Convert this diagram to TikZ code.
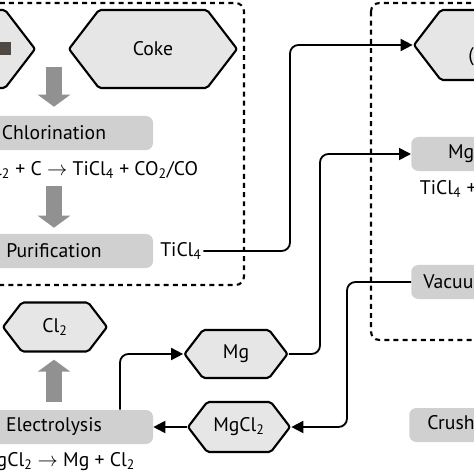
\documentclass[tikz,border=0pt]{standalone}
\usepackage{fontspec}
\setmainfont{PT Sans}
\usetikzlibrary{arrows.meta}
\usetikzlibrary{shapes.symbols}

\definecolor{hexgray}{RGB}{230,230,230}
\definecolor{boxgray}{RGB}{208,208,208}
\definecolor{arrowgray}{RGB}{145,145,145}
\definecolor{oregray}{RGB}{80,72,66}

\begin{document}
\begin{tikzpicture}[x=0.025cm, y=-0.025cm, font=\fontsize{14}{17}\selectfont,
	hexa/.style={signal, signal to=west and east, signal pointer angle=105, draw, line width=1.5pt, fill=hexgray, rounded corners=1.5pt, inner sep=0pt},
	proc/.style={fill=boxgray, rounded corners=5pt, minimum height=0.85cm, minimum width=4.95cm, inner sep=0pt},
	procr/.style={fill=boxgray, rounded corners=5pt, minimum height=0.85cm, inner ysep=0pt, anchor=west},
	flow/.style={line width=1.3pt, rounded corners=6pt, -{Triangle[length=0.3cm, width=0.3cm]}},
	bigarrow/.style={draw=arrowgray, line width=0.4cm, -{Triangle[length=0.3cm, width=0.8cm]}},
	group/.style={line width=1.5pt, dash pattern=on 3.5pt off 3pt, rounded corners=6pt}]
	\useasboundingbox (0,0) rectangle (474,474);
	\clip (0,0) rectangle (474,474);

	% dashed groups
	\draw[group] (-60,3) rectangle (244,285);
	\draw[group] (371,3) rectangle (560,340);

	% chlorination side
	\node[hexa, minimum width=4.2cm, minimum height=1.95cm] (ore) at (-49,49) {};
	\fill[oregray] (-30,42) rectangle (11,55);
	\node[anchor=east, font=\footnotesize] (orelab) at (4,70) {Rutile};
	\node[hexa, minimum width=4.2cm, minimum height=1.95cm] (coke) at (153,49) {Coke};
	\node[proc] (chl) at (54,133) {Chlorination};
	\node[anchor=east] (eqchl) at (203,170) {TiO\textsubscript{2} + 2Cl\textsubscript{2} + C $\rightarrow$ TiCl\textsubscript{4} + CO\textsubscript{2}/CO};
	\node[proc] (pur) at (54,251) {Purification};
	\node[inner sep=1pt] (ticl) at (181,251) {TiCl\textsubscript{4}};
	\draw[bigarrow] ([yshift=1.225cm]chl.north) -- ([yshift=0.225cm]chl.north);
	\draw[bigarrow] ([yshift=1.2cm]pur.north) -- ([yshift=0.15cm]pur.north);

	% reduction side
	\node[hexa, minimum width=4.2cm, minimum height=1.75cm, align=center] (feed) at (498,45) {TiCl\textsubscript{4}\\(liquid)};
	\node[procr, inner xsep=0.92cm] (mgred) at (411,154) {Mg reduction};
	\node[anchor=west] (eqred) at (415,190) {TiCl\textsubscript{4} + 2Mg $\rightarrow$ Ti + 2MgCl\textsubscript{2}};
	\node[procr, inner xsep=0.3cm] (vac) at (411,282) {Vacuum distillation};
	\node[anchor=west] (vaclab) at (469,312) {Ti sponge};
	\node[procr, inner xsep=0.45cm] (crush) at (409,425) {Crushing};

	% electrolysis loop
	\node[hexa, minimum width=2.6cm, minimum height=1.225cm] (cl) at (55,327) {Cl\textsubscript{2}};
	\node[proc] (elec) at (54,427) {Electrolysis};
	\node[anchor=east] (eqel) at (140,462) {MgCl\textsubscript{2} $\rightarrow$ Mg + Cl\textsubscript{2}};
	\node[hexa, minimum width=2.575cm, minimum height=1.2cm] (mg) at (236,354) {Mg};
	\node[hexa, minimum width=2.55cm, minimum height=1.25cm] (mgcl) at (239,427) {MgCl\textsubscript{2}};
	\draw[bigarrow] ([yshift=0.2cm]elec.north) -- ([yshift=1.25cm]elec.north);

	% connectors
	\draw[flow] (ticl.east) -| (290,45) -- (feed.west);
	\draw[flow] ([xshift=1.65cm]elec.north) |- (mg.west);
	\draw[flow] (mg.east) -| (320,154) -- (mgred.west);
	\draw[flow] (vac.west) -| (347,427) -- (mgcl.east);
	\draw[flow] (mgcl.west) -- (elec.east);
\end{tikzpicture}
\end{document}
